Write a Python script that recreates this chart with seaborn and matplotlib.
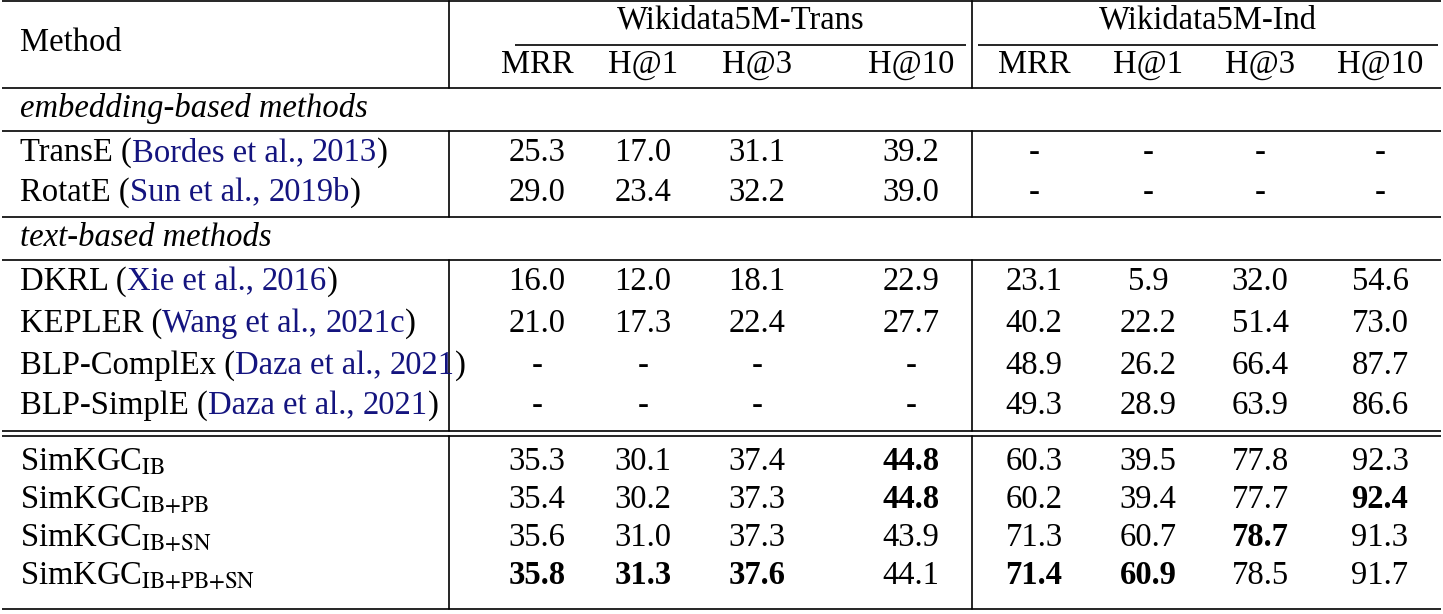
import matplotlib
matplotlib.use('Agg')
import matplotlib.pyplot as plt
import seaborn as sns

# Table data
methods = [
    ('TransE', 'Bordes et al.', '2013'),
    ('RotatE', 'Sun et al.', '2019b'),
    ('DKRL', 'Xie et al.', '2016'),
    ('KEPLER', 'Wang et al.', '2021c'),
    ('BLP-ComplEx', 'Daza et al.', '2021'),
    ('BLP-SimplE', 'Daza et al.', '2021'),
]
simkgc_subs = ['IB', 'IB+PB', 'IB+SN', 'IB+PB+SN']
metrics = ['MRR', 'H@1', 'H@3', 'H@10']
groups = ['Wikidata5M-Trans', 'Wikidata5M-Ind']

baseline_values = [
    ['25.3', '17.0', '31.1', '39.2', '-', '-', '-', '-'],
    ['29.0', '23.4', '32.2', '39.0', '-', '-', '-', '-'],
    ['16.0', '12.0', '18.1', '22.9', '23.1', '5.9', '32.0', '54.6'],
    ['21.0', '17.3', '22.4', '27.7', '40.2', '22.2', '51.4', '73.0'],
    ['-', '-', '-', '-', '48.9', '26.2', '66.4', '87.7'],
    ['-', '-', '-', '-', '49.3', '28.9', '63.9', '86.6'],
]
simkgc_values = [
    ['35.3', '30.1', '37.4', '44.8', '60.3', '39.5', '77.8', '92.3'],
    ['35.4', '30.2', '37.3', '44.8', '60.2', '39.4', '77.7', '92.4'],
    ['35.6', '31.0', '37.3', '43.9', '71.3', '60.7', '78.7', '91.3'],
    ['35.8', '31.3', '37.6', '44.1', '71.4', '60.9', '78.5', '91.7'],
]
simkgc_bold = [
    [3],
    [3, 7],
    [6],
    [0, 1, 2, 4, 5],
]

sns.set_theme(style='white')
plt.rcParams['font.family'] = ['Liberation Serif', 'DejaVu Serif']
plt.rcParams['mathtext.fontset'] = 'stix'
plt.rcParams['text.color'] = 'black'

W, H = 1443, 614
fig = plt.figure(figsize=(W / 100, H / 100), dpi=100)
ax = fig.add_axes([0, 0, 1, 1])
ax.set_xlim(0, W)
ax.set_ylim(H, 0)
ax.axis('off')

FS = 23.5
LINK = '#14147f'
col_x = [537, 643, 757, 911, 1034, 1148, 1260, 1380]
x_left = 20
vsep = [449, 972]

fig.canvas.draw()
renderer = fig.canvas.get_renderer()

def draw_pieces(x, y, pieces):
    for txt, color in pieces:
        t = ax.text(x, y, txt, color=color, fontsize=FS, va='center', ha='left')
        bb = t.get_window_extent(renderer=renderer)
        x += bb.width

def hline(y, x0=2, x1=1441, lw=1.2):
    ax.plot([x0, x1], [y, y], color='black', lw=lw, solid_capstyle='butt')

# horizontal rules
hline(1)
hline(45, 515, 966)
hline(45, 978, 1438)
for y in [88, 131, 217, 260, 609]:
    hline(y)
hline(431)
hline(436)

# vertical rules
for seg in [(1, 88), (131, 217), (260, 431), (436, 609)]:
    for vx in vsep:
        ax.plot([vx, vx], seg, color='black', lw=1.2)

# header
ax.text(x_left, 43, 'Method', fontsize=FS, va='center', ha='left')
ax.text((515 + 966) / 2, 20, groups[0], fontsize=FS, va='center', ha='center')
ax.text((978 + 1438) / 2, 20, groups[1], fontsize=FS, va='center', ha='center')
for i, cx in enumerate(col_x):
    ax.text(cx, 65, metrics[i % 4], fontsize=FS, va='center', ha='center')

# section labels
ax.text(x_left, 108, 'embedding-based methods', fontsize=FS, style='italic', va='center')
ax.text(x_left, 238, 'text-based methods', fontsize=FS, style='italic', va='center')

# baseline rows
row_y = [153, 193, 282, 324, 366, 406]
for (name, cite, year), vals, y in zip(methods, baseline_values, row_y):
    draw_pieces(x_left, y, [(name + ' (', 'black'), (cite + ', ', LINK),
                            (year, LINK), (')', 'black')])
    for cx, v in zip(col_x, vals):
        ax.text(cx, y, v, fontsize=FS, va='center', ha='center')

# SimKGC rows
sim_y = [462, 500, 538, 576]
for sub, vals, bold, y in zip(simkgc_subs, simkgc_values, simkgc_bold, sim_y):
    label = r'SimKGC$_{\mathrm{' + sub.replace('+', '{+}') + '}}$'
    ax.text(x_left, y, label, fontsize=FS, va='center', ha='left')
    for j, (cx, v) in enumerate(zip(col_x, vals)):
        ax.text(cx, y, v, fontsize=FS, va='center', ha='center',
                fontweight='bold' if j in bold else 'normal')

fig.savefig('out.png', dpi=100)
